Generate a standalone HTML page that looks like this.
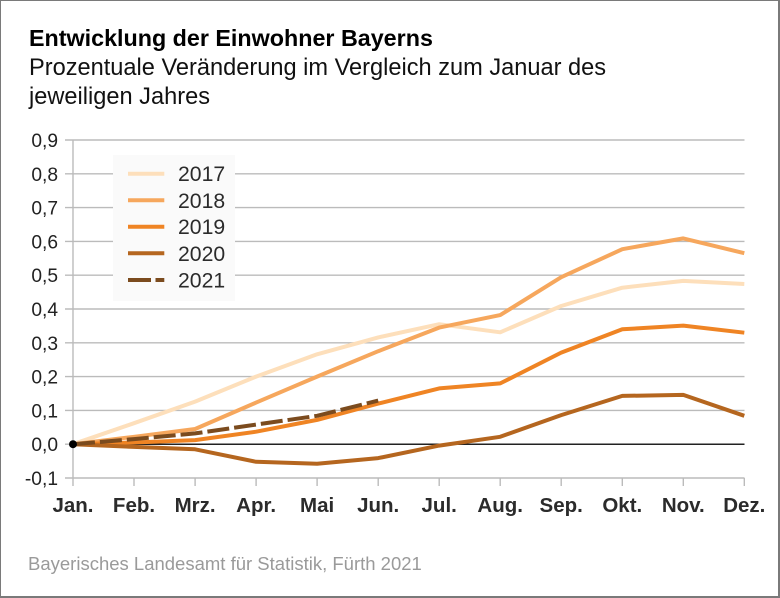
<!DOCTYPE html>
<html><head><meta charset="utf-8"><style>
html,body{margin:0;padding:0;background:#fff;}
svg{display:block;}
text{font-family:"Liberation Sans",Arial,sans-serif;}
</style></head><body>
<svg width="780" height="598" viewBox="0 0 780 598" xmlns="http://www.w3.org/2000/svg">
<rect x="0" y="0" width="780" height="598" fill="#fff"/>
<rect x="0.5" y="0.5" width="778" height="596" fill="none" stroke="#7a7a7a" stroke-width="1"/>
<line x1="779" y1="0" x2="779" y2="598" stroke="#7a7a7a" stroke-width="2"/>
<line x1="0" y1="597" x2="780" y2="597" stroke="#7a7a7a" stroke-width="2"/>

<text x="29" y="46" font-size="23.3" font-weight="bold" fill="#000">Entwicklung der Einwohner Bayerns</text>
<text x="29" y="75" font-size="23.6" fill="#111">Prozentuale Veränderung im Vergleich zum Januar des</text>
<text x="29" y="104" font-size="23.6" fill="#111">jeweiligen Jahres</text>

<g stroke="#bbbbbb" stroke-width="1.4">
<line x1="65" y1="140" x2="744.5" y2="140"/>
<line x1="65" y1="173.8" x2="744.5" y2="173.8"/>
<line x1="65" y1="207.6" x2="744.5" y2="207.6"/>
<line x1="65" y1="241.4" x2="744.5" y2="241.4"/>
<line x1="65" y1="275.2" x2="744.5" y2="275.2"/>
<line x1="65" y1="309" x2="744.5" y2="309"/>
<line x1="65" y1="342.8" x2="744.5" y2="342.8"/>
<line x1="65" y1="376.6" x2="744.5" y2="376.6"/>
<line x1="65" y1="410.4" x2="744.5" y2="410.4"/>
<line x1="65" y1="444.2" x2="73" y2="444.2"/>
<line x1="65" y1="478" x2="744.5" y2="478"/>
<line x1="73" y1="140" x2="73" y2="486"/>
<line x1="134" y1="478" x2="134" y2="486"/>
<line x1="195.1" y1="478" x2="195.1" y2="486"/>
<line x1="256.1" y1="478" x2="256.1" y2="486"/>
<line x1="317.1" y1="478" x2="317.1" y2="486"/>
<line x1="378.2" y1="478" x2="378.2" y2="486"/>
<line x1="439.2" y1="478" x2="439.2" y2="486"/>
<line x1="500.2" y1="478" x2="500.2" y2="486"/>
<line x1="561.2" y1="478" x2="561.2" y2="486"/>
<line x1="622.3" y1="478" x2="622.3" y2="486"/>
<line x1="683.3" y1="478" x2="683.3" y2="486"/>
<line x1="744.3" y1="478" x2="744.3" y2="486"/>
</g>
<line x1="73" y1="444.2" x2="744.5" y2="444.2" stroke="#222" stroke-width="1.5"/>

<g font-size="19.2" fill="#222" text-anchor="end">
<text x="58" y="147">0,9</text>
<text x="58" y="180.8">0,8</text>
<text x="58" y="214.6">0,7</text>
<text x="58" y="248.4">0,6</text>
<text x="58" y="282.2">0,5</text>
<text x="58" y="316">0,4</text>
<text x="58" y="349.8">0,3</text>
<text x="58" y="383.6">0,2</text>
<text x="58" y="417.4">0,1</text>
<text x="58" y="451.2">0,0</text>
<text x="58" y="485">-0,1</text>
</g>

<g font-size="20.5" font-weight="bold" fill="#2b2b2b" text-anchor="middle">
<text x="73" y="512">Jan.</text>
<text x="134" y="512">Feb.</text>
<text x="195.1" y="512">Mrz.</text>
<text x="256.1" y="512">Apr.</text>
<text x="317.1" y="512">Mai</text>
<text x="378.2" y="512">Jun.</text>
<text x="439.2" y="512">Jul.</text>
<text x="500.2" y="512">Aug.</text>
<text x="561.2" y="512">Sep.</text>
<text x="622.3" y="512">Okt.</text>
<text x="683.3" y="512">Nov.</text>
<text x="744.3" y="512">Dez.</text>
</g>

<!-- legend -->
<rect x="113" y="155" width="122" height="146" fill="#fafafa"/>
<g stroke-width="4">
<line x1="128" y1="173.7" x2="164.3" y2="173.7" stroke="#fddfbb"/>
<line x1="128" y1="200.3" x2="164.3" y2="200.3" stroke="#f6a75d"/>
<line x1="128" y1="226.7" x2="164.3" y2="226.7" stroke="#ef8424"/>
<line x1="128" y1="253.3" x2="164.3" y2="253.3" stroke="#b5661f"/>
<line x1="128" y1="280" x2="164.3" y2="280" stroke="#7b4b1e" stroke-dasharray="23 4.5"/>
</g>
<g font-size="21.2" fill="#2b2b2b">
<text x="178" y="181.2">2017</text>
<text x="178" y="207.8">2018</text>
<text x="178" y="234.2">2019</text>
<text x="178" y="260.8">2020</text>
<text x="178" y="287.5">2021</text>
</g>

<!-- series -->
<g fill="none" stroke-width="4" stroke-linejoin="round">
<polyline stroke="#fddfbb" points="73,444.2 134,423.2 195.1,401.6 256.1,376.6 317.1,354.3 378.2,337.4 439.2,324.2 500.2,332.3 561.2,306 622.3,287.7 683.3,280.9 744.3,284"/>
<polyline stroke="#f6a75d" points="73,444.2 134,436.8 195.1,429 256.1,402.6 317.1,376.6 378.2,351.2 439.2,327.6 500.2,315.1 561.2,277.2 622.3,249.2 683.3,238.4 744.3,253.2"/>
<polyline stroke="#ef8424" points="73,444.2 134,442.5 195.1,440.1 256.1,431.7 317.1,419.9 378.2,403.6 439.2,388.4 500.2,383.4 561.2,352.6 622.3,329.3 683.3,325.6 744.3,332.7"/>
<polyline stroke="#b5661f" points="73,444.2 134,446.9 195.1,449.3 256.1,461.8 317.1,463.8 378.2,458.1 439.2,445.6 500.2,436.8 561.2,415.1 622.3,395.9 683.3,394.9 744.3,415.8"/>
<polyline stroke="#7b4b1e" stroke-dasharray="22 5" stroke-linejoin="miter" points="73,444.2 134,439.1 195.1,433.4 256.1,424.6 317.1,415.8 378.2,400.6"/>
</g>
<circle cx="73" cy="444.2" r="4" fill="#000"/>

<text x="28" y="570" font-size="18.5" fill="#9a9a9a">Bayerisches Landesamt für Statistik, Fürth 2021</text>
</svg>
</body></html>
